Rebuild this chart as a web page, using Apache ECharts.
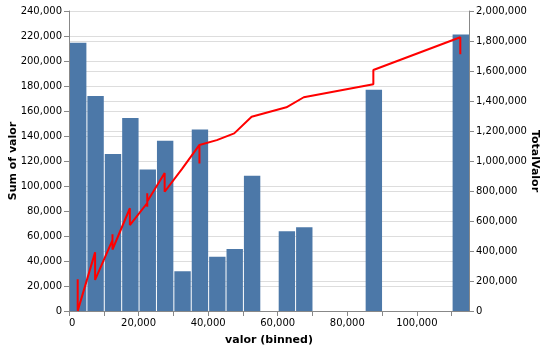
<!DOCTYPE html>
<html>
<head>
<meta charset="utf-8">
<script src="https://cdn.jsdelivr.net/npm/echarts@6/dist/echarts.min.js"></script>
<style>
html,body{margin:0;padding:0;background:#fff;}
#chart{width:547px;height:351px;}
</style>
</head>
<body>
<div id="chart"></div>
<script>
// bins (valor, width 5000) and bar values (Sum of valor)
const binStart = [0, 5000, 10000, 15000, 20000, 25000, 30000, 35000, 40000, 45000, 50000, 60000, 65000, 85000, 110000];
const binEnd   = [5000, 10000, 15000, 20000, 25000, 30000, 35000, 40000, 45000, 50000, 55000, 65000, 70000, 90000, 115000];
const sumValor = [214600, 172100, 125600, 154400, 113300, 136300, 31800, 145300, 43500, 49700, 108200, 63800, 67000, 177000, 221300];

// line: TotalValor by bin middle, in drawing order
const lineX = [2500, 2500, 7500, 7500, 12500, 12500, 12500, 17500, 17500, 22500, 22500, 22500, 22500, 27500, 27500, 32500, 37500, 37500, 37500, 42500, 47500, 52500, 62500, 67500, 87500, 87500, 112500, 112500];
const totalValor = [211000, 1000, 391000, 207000, 473000, 511000, 410000, 685000, 573000, 720000, 785000, 695000, 730000, 920000, 795000, 947000, 1107000, 984000, 1107000, 1139000, 1184000, 1295000, 1358000, 1425000, 1511000, 1607000, 1825000, 1711000];

// axis ticks
const xTickValues = [0, 10000, 20000, 30000, 40000, 50000, 60000, 70000, 80000, 90000, 100000, 110000];
const xLabelValues = [0, 20000, 40000, 60000, 80000, 100000];
const leftMax = 240000, leftStep = 20000;
const rightMax = 2000000, rightStep = 200000;

const fmt = v => Number(v).toLocaleString('en-US');
const FONT = 'DejaVu Sans';

const barData = binStart.map((s, i) => [s, binEnd[i], sumValor[i]]);
const lineData = lineX.map((x, i) => [x, totalValor[i]]);

const axisCommon = {
  axisLine: {show: true, lineStyle: {color: '#888', width: 1}},
  axisTick: {show: true, length: 5, lineStyle: {color: '#888'}},
  axisLabel: {color: '#000', fontFamily: FONT, fontSize: 10, margin: 7},
  nameTextStyle: {color: '#000', fontFamily: FONT, fontSize: 11, fontWeight: 'bold'},
  nameLocation: 'middle',
  nameMoveOverlap: false
};

const chart = echarts.init(document.getElementById('chart'), null, {renderer: 'canvas'});
chart.setOption({
  animation: false,
  backgroundColor: '#fff',
  grid: {left: 69, right: 78, top: 11, bottom: 40, containLabel: false, outerBoundsMode: 'none'},
  xAxis: {
    type: 'value', min: 0, max: 115000,
    name: 'valor (binned)', nameGap: 24,
    ...axisCommon,
    axisTick: {show: true, length: 5, lineStyle: {color: '#888'}, customValues: xTickValues},
    axisLabel: {...axisCommon.axisLabel, customValues: xLabelValues, formatter: fmt, alignMinLabel: 'left'},
    splitLine: {show: false}
  },
  yAxis: [{
    type: 'value', min: 0, max: leftMax, interval: leftStep, position: 'left',
    name: 'Sum of valor', nameGap: 50,
    ...axisCommon,
    axisLabel: {...axisCommon.axisLabel, formatter: fmt},
    splitLine: {show: true, lineStyle: {color: '#ddd', width: 1}}
  }, {
    type: 'value', min: 0, max: rightMax, interval: rightStep, position: 'right',
    name: 'TotalValor', nameGap: 60, nameRotate: -90,
    ...axisCommon,
    axisLabel: {...axisCommon.axisLabel, formatter: fmt},
    splitLine: {show: true, lineStyle: {color: '#ddd', width: 1}}
  }],
  series: [{
    type: 'custom',
    yAxisIndex: 0,
    data: barData,
    encode: {x: [0, 1], y: 2},
    renderItem: function (params, api) {
      const p0 = api.coord([api.value(0), api.value(2)]);
      const p1 = api.coord([api.value(1), 0]);
      return {
        type: 'rect',
        shape: {x: p0[0] + 1, y: p0[1], width: p1[0] - p0[0] - 1, height: p1[1] - p0[1]},
        style: {fill: '#4c78a8'}
      };
    },
    z: 2
  }, {
    type: 'line',
    yAxisIndex: 1,
    data: lineData,
    symbol: 'none',
    lineStyle: {color: '#ff0000', width: 2},
    z: 3
  }]
});
</script>
</body>
</html>
